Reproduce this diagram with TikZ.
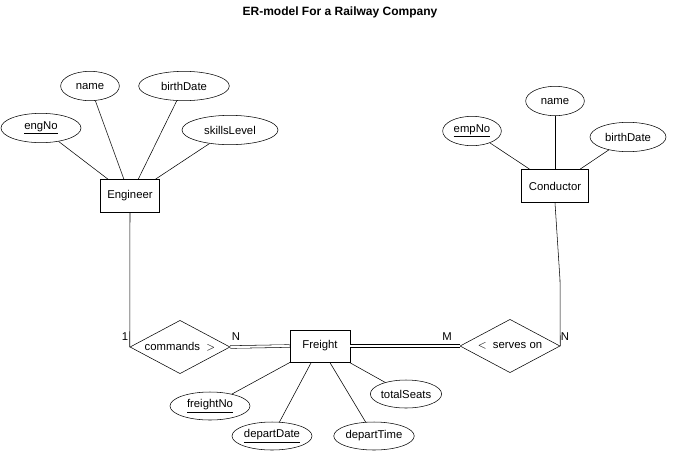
\documentclass[tikz,border=0pt]{standalone}
\usepackage{fontspec}
\setmainfont{Liberation Sans}
\usetikzlibrary{shapes.geometric}
\begin{document}
\begin{tikzpicture}[x=0.75pt,y=-0.75pt,font=\fontsize{8.5}{10}\selectfont,
  ent/.style={draw,rectangle,minimum height=25pt,inner sep=0pt},
  attr/.style={draw,ellipse,minimum height=22pt,inner sep=0pt},
  rel/.style={draw,diamond,aspect=1.9,minimum width=75pt,minimum height=40pt,inner sep=0pt},
  dbl/.style={double,double distance=1.6pt}]
\useasboundingbox (0,0) rectangle (681,451);
\node[font=\fontsize{9}{11}\selectfont\bfseries] (title) at (340,12) {ER-model For a Railway Company};
% Engineer
\node[ent,minimum width=44pt] (eng) at (130,196) {Engineer};
\node[attr,minimum width=44pt] (ename) at (90,86) {name};
\node[attr,minimum width=68pt] (ebirth) at (184,86) {birthDate};
\node[attr,minimum width=60pt] (engno) at (41,128) {\underline{engNo}};
\node[attr,minimum width=72pt] (skill) at (230,130) {skillsLevel};
\foreach \a in {ename,ebirth,engno,skill} \draw (\a) -- (eng);
% Conductor
\node[ent,minimum width=50pt] (cond) at (555,186) {Conductor};
\node[attr,minimum width=44pt] (cname) at (555,101) {name};
\node[attr,minimum width=44pt] (empno) at (472,131) {\underline{empNo}};
\node[attr,minimum width=57pt] (cbirth) at (628,137) {birthDate};
\foreach \a in {cname,empno,cbirth} \draw (\a) -- (cond);
% Freight
\node[ent,minimum width=45pt,minimum height=24pt] (fr) at (320,346) {Freight};
\node[attr,minimum width=60pt,minimum height=21pt] (frno) at (210,406) {\underline{freightNo}};
\node[attr,minimum width=60pt,minimum height=21pt] (ddate) at (272,436) {\underline{departDate}};
\node[attr,minimum width=57pt,minimum height=21pt] (dtime) at (374,436) {departTime};
\node[attr,minimum width=52pt,minimum height=21pt] (seats) at (406,394) {totalSeats};
\foreach \a in {frno,ddate,dtime,seats} \draw (\a) -- (fr);
% relationships
\node[rel] (cmd) at (180,347) {commands\ \ $>$};
\node[rel] (srv) at (510,346) {$<$\ \ serves on};
\draw (eng.south) -- (cmd.west);
\draw[dbl] (cmd.east) -- (fr.west);
\draw[dbl] (fr.east) -- (srv.west);
\coordinate (bend) at (560,280);
\draw (cond.south) -- (bend) -- (srv.east);
\node (l1) at (125,337) {1};
\node (ln1) at (236,337) {N};
\node (lm) at (447,337) {M};
\node (ln2) at (565,337) {N};
\end{tikzpicture}
\end{document}
